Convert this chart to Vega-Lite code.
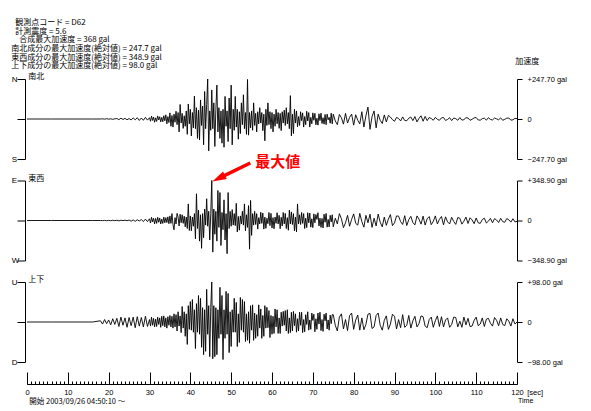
{
  "$schema": "https://vega.github.io/schema/vega-lite/v6.json",
  "background": "white",
  "padding": {"left": 11, "top": 18, "right": 5, "bottom": 5},
  "bounds": "flush",
  "spacing": 21.5,
  "config": {
    "view": {"stroke": null},
    "axis": {"grid": false, "domainColor": "#000", "tickColor": "#000", "labelColor": "#000", "labelFont": "Liberation Sans", "labelFontSize": 7.5, "title": null, "domainWidth": 1, "tickWidth": 1},
    "text": {"font": "Noto Sans CJK JP", "fontSize": 8, "color": "#000", "align": "left", "baseline": "middle"}
  },
  "data": {"values": [
    {"t":0,"ns":0,"ew":0,"ud":0},{"t":6,"ns":0,"ew":0,"ud":0},{"t":12,"ns":0,"ew":0,"ud":0},{"t":16,"ns":0,"ew":0,"ud":0},
    {"t":18,"ns":0,"ew":0,"ud":3},{"t":18.5,"ns":1,"ew":-1,"ud":-5},{"t":19,"ns":-1,"ew":1,"ud":6},{"t":19.5,"ns":2,"ew":-2,"ud":-4},
    {"t":20,"ns":-1,"ew":1,"ud":5},{"t":20.5,"ns":1,"ew":-2,"ud":-7},{"t":21,"ns":-2,"ew":2,"ud":8},{"t":21.5,"ns":1,"ew":-1,"ud":-6},
    {"t":22,"ns":3,"ew":2,"ud":9},{"t":22.5,"ns":-4,"ew":-3,"ud":-11},{"t":23,"ns":5,"ew":2,"ud":12},{"t":23.5,"ns":-3,"ew":-1,"ud":-8},
    {"t":24,"ns":4,"ew":3,"ud":10},{"t":24.5,"ns":-5,"ew":-2,"ud":-13},{"t":25,"ns":3,"ew":4,"ud":11},{"t":25.5,"ns":-6,"ew":-6,"ud":-9},
    {"t":26,"ns":7,"ew":5,"ud":12},{"t":26.5,"ns":-5,"ew":-7,"ud":-14},{"t":27,"ns":8,"ew":6,"ud":13},{"t":27.5,"ns":-9,"ew":-4,"ud":-10},
    {"t":28,"ns":6,"ew":8,"ud":11},{"t":28.5,"ns":-8,"ew":-9,"ud":-12},{"t":29,"ns":10,"ew":12,"ud":14},{"t":29.5,"ns":-7,"ew":-10,"ud":-11},
    {"t":30,"ns":8,"ew":15,"ud":6},{"t":30.25,"ns":-14,"ew":-22,"ud":-10},{"t":30.5,"ns":18,"ew":28,"ud":12},{"t":30.75,"ns":-9,"ew":-12,"ud":-8},
    {"t":31,"ns":12,"ew":20,"ud":9},{"t":31.25,"ns":-20,"ew":-30,"ud":-12},{"t":31.5,"ns":7,"ew":18,"ud":7},{"t":31.75,"ns":-15,"ew":-25,"ud":-11},
    {"t":32,"ns":19,"ew":28,"ud":12},{"t":32.25,"ns":-6,"ew":-15,"ud":-6},{"t":32.5,"ns":14,"ew":22,"ud":10},{"t":32.75,"ns":-18,"ew":-30,"ud":-13},
    {"t":33,"ns":10,"ew":12,"ud":14},{"t":33.25,"ns":-17,"ew":-26,"ud":-9},{"t":33.5,"ns":20,"ew":30,"ud":15},{"t":33.75,"ns":-11,"ew":-20,"ud":-12},
    {"t":34,"ns":26,"ew":25,"ud":10},{"t":34.25,"ns":-30,"ew":-18,"ud":-15},{"t":34.5,"ns":15,"ew":32,"ud":13},{"t":34.75,"ns":-22,"ew":-28,"ud":-8},
    {"t":35,"ns":38,"ew":40,"ud":16},{"t":35.25,"ns":-45,"ew":-25,"ud":-12},{"t":35.5,"ns":22,"ew":60,"ud":14},{"t":35.75,"ns":-50,"ew":-35,"ud":-15},
    {"t":36,"ns":30,"ew":-81,"ud":20},{"t":36.25,"ns":-20,"ew":25,"ud":-12},{"t":36.5,"ns":48,"ew":-30,"ud":18},{"t":36.75,"ns":-35,"ew":62,"ud":-22},
    {"t":37,"ns":40,"ew":30,"ud":25},{"t":37.25,"ns":-80,"ew":-48,"ud":-10},{"t":37.5,"ns":90,"ew":55,"ud":15},{"t":37.75,"ns":-25,"ew":-20,"ud":-26},
    {"t":38,"ns":35,"ew":50,"ud":38},{"t":38.25,"ns":-58,"ew":-25,"ud":-15},{"t":38.5,"ns":20,"ew":38,"ud":25},{"t":38.75,"ns":-45,"ew":-55,"ud":-35},
    {"t":39,"ns":50,"ew":30,"ud":20},{"t":39.25,"ns":-95,"ew":-70,"ud":-55},{"t":39.5,"ns":93,"ew":145,"ud":40},{"t":39.75,"ns":-30,"ew":-87,"ud":-18},
    {"t":40,"ns":60,"ew":40,"ud":50},{"t":40.25,"ns":-105,"ew":-90,"ud":-20},{"t":40.5,"ns":40,"ew":30,"ud":55},{"t":40.75,"ns":-55,"ew":-50,"ud":-25},
    {"t":41,"ns":142,"ew":60,"ud":30},{"t":41.25,"ns":-60,"ew":-160,"ud":-65},{"t":41.5,"ns":70,"ew":233,"ud":45},{"t":41.75,"ns":-120,"ew":-70,"ud":-25},
    {"t":42,"ns":55,"ew":90,"ud":65},{"t":42.25,"ns":-130,"ew":-180,"ud":-30},{"t":42.5,"ns":118,"ew":50,"ud":58},{"t":42.75,"ns":-40,"ew":-243,"ud":-62},
    {"t":43,"ns":80,"ew":60,"ud":35},{"t":43.25,"ns":-160,"ew":-150,"ud":-80},{"t":43.5,"ns":170,"ew":100,"ud":30},{"t":43.75,"ns":-60,"ew":-40,"ud":-72},
    {"t":44,"ns":90,"ew":190,"ud":80},{"t":44.25,"ns":247.7,"ew":-50,"ud":-30},{"t":44.5,"ns":-198,"ew":80,"ud":40},{"t":44.75,"ns":50,"ew":-170,"ud":-85},
    {"t":45,"ns":-70,"ew":60,"ud":35},{"t":45.25,"ns":180,"ew":348.9,"ud":98},{"t":45.5,"ns":-60,"ew":-276,"ud":-90},{"t":45.75,"ns":100,"ew":100,"ud":40},
    {"t":46,"ns":-170,"ew":-120,"ud":-85},{"t":46.25,"ns":60,"ew":80,"ud":35},{"t":46.5,"ns":210,"ew":-180,"ud":-80},{"t":46.75,"ns":-80,"ew":262,"ud":30},
    {"t":47,"ns":70,"ew":-60,"ud":-40},{"t":47.25,"ns":-120,"ew":244,"ud":85},{"t":47.5,"ns":50,"ew":-218,"ud":-30},{"t":47.75,"ns":-150,"ew":70,"ud":65},
    {"t":48,"ns":60,"ew":-80,"ud":-92},{"t":48.25,"ns":-175,"ew":180,"ud":30},{"t":48.5,"ns":140,"ew":-170,"ud":-40},{"t":48.75,"ns":-45,"ew":60,"ud":75},
    {"t":49,"ns":50,"ew":-290,"ud":-30},{"t":49.25,"ns":-140,"ew":244,"ud":70},{"t":49.5,"ns":130,"ew":-70,"ud":-75},{"t":49.75,"ns":-60,"ew":80,"ud":25},
    {"t":50,"ns":210,"ew":-50,"ud":-60},{"t":50.25,"ns":-160,"ew":95,"ud":30},{"t":50.5,"ns":60,"ew":-40,"ud":-25},{"t":50.75,"ns":-70,"ew":60,"ud":58},
    {"t":51,"ns":140,"ew":-45,"ud":-25},{"t":51.25,"ns":-50,"ew":150,"ud":48},{"t":51.5,"ns":60,"ew":-100,"ud":-60},{"t":51.75,"ns":-125,"ew":35,"ud":20},
    {"t":52,"ns":45,"ew":-85,"ud":-50},{"t":52.25,"ns":-90,"ew":40,"ud":60},{"t":52.5,"ns":100,"ew":-30,"ud":-20},{"t":52.75,"ns":-35,"ew":80,"ud":55},
    {"t":53,"ns":150,"ew":-40,"ud":-25},{"t":53.25,"ns":-60,"ew":145,"ud":50},{"t":53.5,"ns":40,"ew":-90,"ud":-48},{"t":53.75,"ns":-95,"ew":50,"ud":20},
    {"t":54,"ns":245,"ew":-60,"ud":-45},{"t":54.25,"ns":-100,"ew":130,"ud":25},{"t":54.5,"ns":40,"ew":-250,"ud":-52},{"t":54.75,"ns":-55,"ew":175,"ud":40},
    {"t":55,"ns":50,"ew":-130,"ud":-20},{"t":55.25,"ns":-70,"ew":60,"ud":42},{"t":55.5,"ns":100,"ew":-40,"ud":-45},{"t":55.75,"ns":-40,"ew":80,"ud":22},
    {"t":56,"ns":35,"ew":-35,"ud":-40},{"t":56.25,"ns":-80,"ew":60,"ud":18},{"t":56.5,"ns":45,"ew":-75,"ud":-35},{"t":56.75,"ns":-30,"ew":25,"ud":42},
    {"t":57,"ns":70,"ew":-30,"ud":-15},{"t":57.25,"ns":-25,"ew":72,"ud":32},{"t":57.5,"ns":40,"ew":-25,"ud":-40},{"t":57.75,"ns":-72,"ew":65,"ud":16},
    {"t":58,"ns":30,"ew":-75,"ud":-35},{"t":58.25,"ns":-135,"ew":30,"ud":40},{"t":58.5,"ns":60,"ew":-68,"ud":-15},{"t":58.75,"ns":-40,"ew":20,"ud":36},
    {"t":59,"ns":100,"ew":-28,"ud":-14},{"t":59.25,"ns":-35,"ew":70,"ud":28},{"t":59.5,"ns":45,"ew":-45,"ud":-38},{"t":59.75,"ns":-60,"ew":62,"ud":16},
    {"t":60,"ns":40,"ew":-66,"ud":-30},{"t":60.25,"ns":-80,"ew":25,"ud":14},{"t":60.5,"ns":30,"ew":-72,"ud":-28},{"t":60.75,"ns":-45,"ew":30,"ud":32},
    {"t":61,"ns":60,"ew":-25,"ud":-12},{"t":61.25,"ns":-30,"ew":68,"ud":30},{"t":61.5,"ns":40,"ew":-30,"ud":-28},{"t":61.75,"ns":-58,"ew":45,"ud":10},
    {"t":62,"ns":35,"ew":-72,"ud":-28},{"t":62.25,"ns":-72,"ew":28,"ud":24},{"t":62.5,"ns":45,"ew":-48,"ud":-10},{"t":62.75,"ns":-25,"ew":70,"ud":26},
    {"t":63,"ns":55,"ew":-30,"ud":-8},{"t":63.25,"ns":-40,"ew":62,"ud":28},{"t":63.5,"ns":70,"ew":-70,"ud":-22},{"t":63.75,"ns":-30,"ew":25,"ud":30},
    {"t":64,"ns":40,"ew":-85,"ud":-28},{"t":64.25,"ns":-60,"ew":90,"ud":10},{"t":64.5,"ns":145,"ew":-30,"ud":-26},{"t":64.75,"ns":-105,"ew":75,"ud":24},
    {"t":65,"ns":30,"ew":-35,"ud":-22},{"t":65.25,"ns":-90,"ew":60,"ud":26},{"t":65.5,"ns":60,"ew":-90,"ud":-9},{"t":65.75,"ns":-25,"ew":30,"ud":20},
    {"t":66,"ns":50,"ew":-100,"ud":-25},{"t":66.25,"ns":-48,"ew":145,"ud":8},{"t":66.5,"ns":15,"ew":-30,"ud":-22},{"t":66.75,"ns":-40,"ew":50,"ud":24},
    {"t":67,"ns":45,"ew":-35,"ud":-8},{"t":67.25,"ns":-10,"ew":70,"ud":24},{"t":67.5,"ns":38,"ew":-25,"ud":-26},{"t":67.75,"ns":-50,"ew":60,"ud":6},
    {"t":68,"ns":15,"ew":-70,"ud":-24},{"t":68.25,"ns":-35,"ew":20,"ud":18},{"t":68.5,"ns":48,"ew":-62,"ud":-6},{"t":68.75,"ns":-12,"ew":68,"ud":25},
    {"t":69,"ns":40,"ew":-20,"ud":-20},{"t":69.25,"ns":-50,"ew":65,"ud":5},{"t":69.5,"ns":10,"ew":-58,"ud":-18},{"t":69.75,"ns":-30,"ew":15,"ud":22},
    {"t":70,"ns":38,"ew":-62,"ud":4},{"t":70.25,"ns":-8,"ew":58,"ud":19},{"t":70.5,"ns":35,"ew":-20,"ud":-24},{"t":70.75,"ns":-36,"ew":52,"ud":8},
    {"t":71,"ns":5,"ew":10,"ud":-18},{"t":71.25,"ns":-38,"ew":68,"ud":22},{"t":71.5,"ns":32,"ew":-48,"ud":-5},{"t":71.75,"ns":-10,"ew":20,"ud":24},
    {"t":72,"ns":36,"ew":-60,"ud":-21},{"t":72.25,"ns":-28,"ew":18,"ud":6},{"t":72.5,"ns":8,"ew":-65,"ud":-23},{"t":72.75,"ns":-32,"ew":55,"ud":19},
    {"t":73,"ns":28,"ew":-15,"ud":3},{"t":73.25,"ns":-35,"ew":62,"ud":22},{"t":73.5,"ns":30,"ew":-58,"ud":-17},{"t":73.75,"ns":-5,"ew":10,"ud":5},
    {"t":74,"ns":10,"ew":-56,"ud":-20},{"t":74.25,"ns":-26,"ew":45,"ud":17},{"t":74.5,"ns":36,"ew":-12,"ud":-4},{"t":74.75,"ns":-30,"ew":50,"ud":18},
    {"t":75,"ns":30,"ew":-55,"ud":18},{"t":75.5,"ns":-12,"ew":20,"ud":-8},{"t":76,"ns":-35,"ew":-30,"ud":-22},{"t":76.5,"ns":28,"ew":60,"ud":12},
    {"t":77,"ns":8,"ew":15,"ud":20},{"t":77.5,"ns":-32,"ew":-62,"ud":-17},{"t":78,"ns":35,"ew":-20,"ud":6},{"t":78.5,"ns":-25,"ew":45,"ud":-21},
    {"t":79,"ns":10,"ew":-50,"ud":16},{"t":79.5,"ns":30,"ew":10,"ud":22},{"t":80,"ns":-38,"ew":58,"ud":-18},{"t":80.5,"ns":26,"ew":-25,"ud":5},
    {"t":81,"ns":-8,"ew":-40,"ud":17},{"t":81.5,"ns":-30,"ew":62,"ud":-20},{"t":82,"ns":45,"ew":-10,"ud":10},{"t":82.5,"ns":-50,"ew":-58,"ud":-19},
    {"t":83,"ns":20,"ew":45,"ud":-6},{"t":83.5,"ns":74,"ew":-20,"ud":19},{"t":84,"ns":-64,"ew":55,"ud":21},{"t":84.5,"ns":15,"ew":-60,"ud":-16},
    {"t":85,"ns":50,"ew":20,"ud":-12},{"t":85.5,"ns":-55,"ew":-48,"ud":16},{"t":86,"ns":30,"ew":56,"ud":22},{"t":86.5,"ns":-8,"ew":-15,"ud":-8},
    {"t":87,"ns":-28,"ew":-55,"ud":-20},{"t":87.5,"ns":25,"ew":30,"ud":4},{"t":88,"ns":-18,"ew":-42,"ud":15},{"t":88.5,"ns":22,"ew":12,"ud":-18},
    {"t":89,"ns":12,"ew":52,"ud":-5},{"t":89.5,"ns":-4,"ew":-45,"ud":19},{"t":90,"ns":-14,"ew":-20,"ud":14},{"t":90.5,"ns":10,"ew":40,"ud":-17},
    {"t":91,"ns":3,"ew":38,"ud":6},{"t":91.5,"ns":-12,"ew":-10,"ud":-14},{"t":92,"ns":13,"ew":-35,"ud":18},{"t":92.5,"ns":-9,"ew":42,"ud":-13},
    {"t":93,"ns":-11,"ew":-44,"ud":-8},{"t":93.5,"ns":5,"ew":8,"ud":16},{"t":94,"ns":12,"ew":36,"ud":-15},{"t":94.5,"ns":-10,"ew":-18,"ud":3},
    {"t":95,"ns":15,"ew":-38,"ud":14},{"t":95.5,"ns":-18,"ew":40,"ud":-12},{"t":96,"ns":4,"ew":12,"ud":-4},{"t":96.5,"ns":20,"ew":-32,"ud":15},
    {"t":97,"ns":-14,"ew":38,"ud":13},{"t":97.5,"ns":16,"ew":-40,"ud":-10},{"t":98,"ns":-10,"ew":15,"ud":-14},{"t":98.5,"ns":9,"ew":34,"ud":6},
    {"t":99,"ns":3,"ew":-36,"ud":12},{"t":99.5,"ns":-8,"ew":-8,"ud":-13},{"t":100,"ns":10,"ew":40,"ud":3},{"t":100.5,"ns":-2,"ew":-30,"ud":15},
    {"t":101,"ns":-8,"ew":10,"ud":-11},{"t":101.5,"ns":7,"ew":35,"ud":13},{"t":102,"ns":9,"ew":-38,"ud":-12},{"t":102.5,"ns":-9,"ew":32,"ud":5},
    {"t":103,"ns":-3,"ew":-12,"ud":10},{"t":103.5,"ns":8,"ew":-30,"ud":-13},{"t":104,"ns":-10,"ew":28,"ud":-6},{"t":104.5,"ns":6,"ew":-8,"ud":12},
    {"t":105,"ns":2,"ew":-34,"ud":11},{"t":105.5,"ns":-8,"ew":26,"ud":-12},{"t":106,"ns":9,"ew":20,"ud":2},{"t":106.5,"ns":-7,"ew":-32,"ud":-13},
    {"t":107,"ns":-4,"ew":-6,"ud":12},{"t":107.5,"ns":8,"ew":30,"ud":-7},{"t":108,"ns":6,"ew":-26,"ud":9},{"t":108.5,"ns":-8,"ew":24,"ud":-11},
    {"t":109,"ns":-2,"ew":5,"ud":-10},{"t":109.5,"ns":7,"ew":-28,"ud":4},{"t":110,"ns":9,"ew":22,"ud":12},{"t":110.5,"ns":-6,"ew":-20,"ud":-9},
    {"t":111,"ns":-7,"ew":-25,"ud":-5},{"t":111.5,"ns":2,"ew":8,"ud":10},{"t":112,"ns":5,"ew":20,"ud":-11},{"t":112.5,"ns":-7,"ew":-22,"ud":7},
    {"t":113,"ns":8,"ew":-6,"ud":9},{"t":113.5,"ns":-3,"ew":18,"ud":-3},{"t":114,"ns":-6,"ew":-20,"ud":-10},{"t":114.5,"ns":6,"ew":16,"ud":11},
    {"t":115,"ns":1,"ew":4,"ud":4},{"t":115.5,"ns":-5,"ew":-18,"ud":-9},{"t":116,"ns":7,"ew":19,"ud":10},{"t":116.5,"ns":-8,"ew":-10,"ud":-6},
    {"t":117,"ns":-2,"ew":-15,"ud":-9},{"t":117.5,"ns":5,"ew":17,"ud":8},{"t":118,"ns":6,"ew":6,"ud":2},{"t":118.5,"ns":-7,"ew":-14,"ud":-10},
    {"t":119,"ns":-5,"ew":15,"ud":8},{"t":119.5,"ns":4,"ew":-12,"ud":-5},{"t":120,"ns":2,"ew":-8,"ud":0}
  ]},
  "vconcat": [
    {
      "width": 490, "height": 80,
      "resolve": {"axis": {"y": "independent", "x": "independent"}},
      "layer": [
        {"mark": {"type": "line", "color": "#000", "strokeWidth": 0.9},
         "encoding": {
           "x": {"field": "t", "type": "quantitative", "scale": {"domain": [0, 120], "nice": false, "zero": false}, "axis": null},
           "y": {"field": "ns", "type": "quantitative", "scale": {"domain": [-247.7, 247.7], "nice": false, "zero": false},
                 "axis": {"orient": "left", "title": null, "values": [247.7, 0, -247.7], "labelExpr": "datum.value > 0 ? 'N' : (datum.value < 0 ? 'S' : '')", "tickSize": 8, "offset": 2, "labelAlign": "left", "labelPadding": 5.7, "labelFontSize": 8}}}},
        {"mark": {"type": "line", "opacity": 0},
         "encoding": {
           "x": {"field": "t", "type": "quantitative", "scale": {"domain": [0, 120], "nice": false, "zero": false}, "axis": null},
           "y": {"field": "ns", "type": "quantitative", "scale": {"domain": [-247.7, 247.7], "nice": false, "zero": false},
                 "axis": {"orient": "right", "title": null, "values": [247.7, 0, -247.7], "labelExpr": "datum.value > 0 ? '+247.70 gal' : (datum.value < 0 ? '−247.70 gal' : '0')", "tickSize": 5, "labelPadding": 5}}}},
        {"data": {"values": [{}]}, "mark": {"type": "text"},
         "encoding": {"x": {"datum": -2.87, "type": "quantitative", "scale": {"domain": [0, 120], "nice": false, "zero": false}, "axis": null},
                      "y": {"datum": 595.7, "type": "quantitative", "scale": {"domain": [-247.7, 247.7], "nice": false, "zero": false}, "axis": null},
                      "text": {"value": "観測点コード = D62"}}},
        {"data": {"values": [{}]}, "mark": {"type": "text"},
         "encoding": {"x": {"datum": -2.87, "type": "quantitative", "scale": {"domain": [0, 120], "nice": false, "zero": false}, "axis": null},
                      "y": {"datum": 541.8, "type": "quantitative", "scale": {"domain": [-247.7, 247.7], "nice": false, "zero": false}, "axis": null},
                      "text": {"value": "計測震度 = 5.6"}}},
        {"data": {"values": [{}]}, "mark": {"type": "text"},
         "encoding": {"x": {"datum": -1.89, "type": "quantitative", "scale": {"domain": [0, 120], "nice": false, "zero": false}, "axis": null},
                      "y": {"datum": 488.0, "type": "quantitative", "scale": {"domain": [-247.7, 247.7], "nice": false, "zero": false}, "axis": null},
                      "text": {"value": "合成最大加速度 =  368  gal"}}},
        {"data": {"values": [{}]}, "mark": {"type": "text"},
         "encoding": {"x": {"datum": -3.84, "type": "quantitative", "scale": {"domain": [0, 120], "nice": false, "zero": false}, "axis": null},
                      "y": {"datum": 434.1, "type": "quantitative", "scale": {"domain": [-247.7, 247.7], "nice": false, "zero": false}, "axis": null},
                      "text": {"value": "南北成分の最大加速度(絶対値) = 247.7 gal"}}},
        {"data": {"values": [{}]}, "mark": {"type": "text"},
         "encoding": {"x": {"datum": -3.84, "type": "quantitative", "scale": {"domain": [0, 120], "nice": false, "zero": false}, "axis": null},
                      "y": {"datum": 380.2, "type": "quantitative", "scale": {"domain": [-247.7, 247.7], "nice": false, "zero": false}, "axis": null},
                      "text": {"value": "東西成分の最大加速度(絶対値) = 348.9 gal"}}},
        {"data": {"values": [{}]}, "mark": {"type": "text"},
         "encoding": {"x": {"datum": -3.84, "type": "quantitative", "scale": {"domain": [0, 120], "nice": false, "zero": false}, "axis": null},
                      "y": {"datum": 326.3, "type": "quantitative", "scale": {"domain": [-247.7, 247.7], "nice": false, "zero": false}, "axis": null},
                      "text": {"value": "上下成分の最大加速度(絶対値) = 98.0 gal"}}},
        {"data": {"values": [{}]}, "mark": {"type": "text"},
         "encoding": {"x": {"datum": 0.32, "type": "quantitative", "scale": {"domain": [0, 120], "nice": false, "zero": false}, "axis": null},
                      "y": {"datum": 260.1, "type": "quantitative", "scale": {"domain": [-247.7, 247.7], "nice": false, "zero": false}, "axis": null},
                      "text": {"value": "南北"}}},
        {"data": {"values": [{}]}, "mark": {"type": "text"},
         "encoding": {"x": {"datum": 119.6, "type": "quantitative", "scale": {"domain": [0, 120], "nice": false, "zero": false}, "axis": null},
                      "y": {"datum": 353, "type": "quantitative", "scale": {"domain": [-247.7, 247.7], "nice": false, "zero": false}, "axis": null},
                      "text": {"value": "加速度"}}}
      ]
    },
    {
      "width": 490, "height": 80,
      "resolve": {"axis": {"y": "independent", "x": "independent"}},
      "layer": [
        {"mark": {"type": "line", "color": "#000", "strokeWidth": 0.9},
         "encoding": {
           "x": {"field": "t", "type": "quantitative", "scale": {"domain": [0, 120], "nice": false, "zero": false}, "axis": null},
           "y": {"field": "ew", "type": "quantitative", "scale": {"domain": [-348.9, 348.9], "nice": false, "zero": false},
                 "axis": {"orient": "left", "title": null, "values": [348.9, 0, -348.9], "labelExpr": "datum.value > 0 ? 'E' : (datum.value < 0 ? 'W' : '')", "tickSize": 8, "offset": 2, "labelAlign": "left", "labelPadding": 5.7, "labelFontSize": 8}}}},
        {"mark": {"type": "line", "opacity": 0},
         "encoding": {
           "x": {"field": "t", "type": "quantitative", "scale": {"domain": [0, 120], "nice": false, "zero": false}, "axis": null},
           "y": {"field": "ew", "type": "quantitative", "scale": {"domain": [-348.9, 348.9], "nice": false, "zero": false},
                 "axis": {"orient": "right", "title": null, "values": [348.9, 0, -348.9], "labelExpr": "datum.value > 0 ? '+348.90 gal' : (datum.value < 0 ? '−348.90 gal' : '0')", "tickSize": 5, "labelPadding": 5}}}},
        {"data": {"values": [{}]}, "mark": {"type": "text"},
         "encoding": {"x": {"datum": 0.32, "type": "quantitative", "scale": {"domain": [0, 120], "nice": false, "zero": false}, "axis": null},
                      "y": {"datum": 366, "type": "quantitative", "scale": {"domain": [-348.9, 348.9], "nice": false, "zero": false}, "axis": null},
                      "text": {"value": "東西"}}},
        {"data": {"values": [{}]}, "mark": {"type": "rule", "color": "#ff0000", "strokeWidth": 3.5},
         "encoding": {"x": {"datum": 54.69, "type": "quantitative", "scale": {"domain": [0, 120], "nice": false, "zero": false}, "axis": null},
                      "y": {"datum": 501.5, "type": "quantitative", "scale": {"domain": [-348.9, 348.9], "nice": false, "zero": false}, "axis": null},
                      "x2": {"datum": 46.92}, "y2": {"datum": 367.2}}},
        {"data": {"values": [{}]}, "mark": {"type": "point", "shape": "M0,-1L0.6,1L-0.6,1Z", "filled": true, "color": "#ff0000", "opacity": 1, "size": 196, "angle": 244},
         "encoding": {"x": {"datum": 46.92, "type": "quantitative", "scale": {"domain": [0, 120], "nice": false, "zero": false}, "axis": null},
                      "y": {"datum": 367.2, "type": "quantitative", "scale": {"domain": [-348.9, 348.9], "nice": false, "zero": false}, "axis": null}}},
        {"data": {"values": [{}]}, "mark": {"type": "text", "color": "#ff0000", "fontSize": 15, "fontWeight": "bold"},
         "encoding": {"x": {"datum": 55.9, "type": "quantitative", "scale": {"domain": [0, 120], "nice": false, "zero": false}, "axis": null},
                      "y": {"datum": 510, "type": "quantitative", "scale": {"domain": [-348.9, 348.9], "nice": false, "zero": false}, "axis": null},
                      "text": {"value": "最大値"}}}
      ]
    },
    {
      "width": 490, "height": 80,
      "resolve": {"axis": {"y": "independent", "x": "independent"}},
      "layer": [
        {"mark": {"type": "line", "color": "#000", "strokeWidth": 0.9},
         "encoding": {
           "x": {"field": "t", "type": "quantitative", "scale": {"domain": [0, 120], "nice": false, "zero": false},
                 "axis": {"orient": "bottom", "title": null, "offset": 22, "values": [0, 10, 20, 30, 40, 50, 60, 70, 80, 90, 100, 110, 120], "tickSize": -12, "labelPadding": 16, "labelFlush": false, "labelOverlap": false, "domain": true}},
           "y": {"field": "ud", "type": "quantitative", "scale": {"domain": [-98, 98], "nice": false, "zero": false},
                 "axis": {"orient": "left", "title": null, "values": [98, 0, -98], "labelExpr": "datum.value > 0 ? 'U' : (datum.value < 0 ? 'D' : '')", "tickSize": 8, "offset": 2, "labelAlign": "left", "labelPadding": 5.7, "labelFontSize": 8}}}},
        {"mark": {"type": "line", "opacity": 0},
         "encoding": {
           "x": {"field": "t", "type": "quantitative", "scale": {"domain": [0, 120], "nice": false, "zero": false},
                 "axis": {"orient": "bottom", "title": null, "offset": 22, "values": [0,1,2,3,4,5,6,7,8,9,10,11,12,13,14,15,16,17,18,19,20,21,22,23,24,25,26,27,28,29,30,31,32,33,34,35,36,37,38,39,40,41,42,43,44,45,46,47,48,49,50,51,52,53,54,55,56,57,58,59,60,61,62,63,64,65,66,67,68,69,70,71,72,73,74,75,76,77,78,79,80,81,82,83,84,85,86,87,88,89,90,91,92,93,94,95,96,97,98,99,100,101,102,103,104,105,106,107,108,109,110,111,112,113,114,115,116,117,118,119,120], "tickSize": -3, "labels": false, "domain": false}},
           "y": {"field": "ud", "type": "quantitative", "scale": {"domain": [-98, 98], "nice": false, "zero": false},
                 "axis": {"orient": "right", "title": null, "values": [98, 0, -98], "labelExpr": "datum.value > 0 ? '+98.00 gal' : (datum.value < 0 ? '−98.00 gal' : '0')", "tickSize": 5, "labelPadding": 5}}}},
        {"data": {"values": [{}]}, "mark": {"type": "text"},
         "encoding": {"x": {"datum": 0.32, "type": "quantitative", "scale": {"domain": [0, 120], "nice": false, "zero": false}, "axis": null},
                      "y": {"datum": 101.7, "type": "quantitative", "scale": {"domain": [-98, 98], "nice": false, "zero": false}, "axis": null},
                      "text": {"value": "上下"}}},
        {"data": {"values": [{}]}, "mark": {"type": "text", "fontSize": 7.5},
         "encoding": {"x": {"datum": 0.56, "type": "quantitative", "scale": {"domain": [0, 120], "nice": false, "zero": false}, "axis": null},
                      "y": {"datum": -196, "type": "quantitative", "scale": {"domain": [-98, 98], "nice": false, "zero": false}, "axis": null},
                      "text": {"value": "開始 2003/09/26  04:50:10 ～"}}},
        {"data": {"values": [{}]}, "mark": {"type": "text", "font": "Liberation Sans", "fontSize": 7},
         "encoding": {"x": {"datum": 120.24, "type": "quantitative", "scale": {"domain": [0, 120], "nice": false, "zero": false}, "axis": null},
                      "y": {"datum": -194, "type": "quantitative", "scale": {"domain": [-98, 98], "nice": false, "zero": false}, "axis": null},
                      "text": {"value": "Time"}}},
        {"data": {"values": [{}]}, "mark": {"type": "text", "font": "Liberation Sans", "fontSize": 7.5},
         "encoding": {"x": {"datum": 122.5, "type": "quantitative", "scale": {"domain": [0, 120], "nice": false, "zero": false}, "axis": null},
                      "y": {"datum": -174, "type": "quantitative", "scale": {"domain": [-98, 98], "nice": false, "zero": false}, "axis": null},
                      "text": {"value": "[sec]"}}}
      ]
    }
  ]
}
